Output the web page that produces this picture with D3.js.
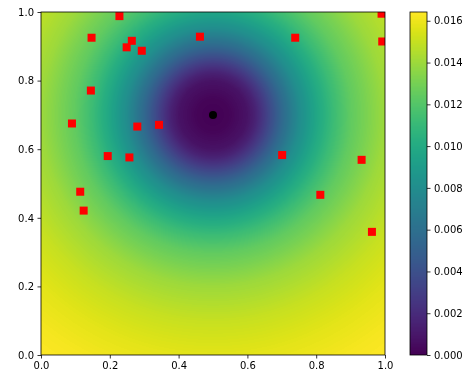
<!DOCTYPE html>
<html><head><meta charset="utf-8">
<script src="https://cdn.jsdelivr.net/npm/d3@7"></script>
<style>
html,body{margin:0;padding:0;background:#fff;}
#wrap{position:relative;width:474px;height:384px;}
canvas{position:absolute;left:0;top:0;}
svg{position:absolute;left:0;top:0;}
text{font-family:"DejaVu Sans",sans-serif;font-size:10px;fill:#000;}
</style></head>
<body><div id="wrap"><canvas id="cv" width="474" height="384"></canvas><svg id="sv" width="474" height="384"></svg></div>
<script>
// radial profile of the field: distance from target -> value
const profileDist = [0, 0.05, 0.1, 0.125, 0.15, 0.2, 0.25, 0.3, 0.35, 0.4, 0.5, 0.6, 0.7, 0.8, 0.9];
const profileVal  = [0, 0.0002, 0.0008, 0.0016, 0.0028, 0.0055, 0.0079, 0.0097, 0.0112, 0.0124, 0.0140, 0.0150, 0.0157, 0.0162, 0.0165];
const target = [0.5, 0.7];
const sampleX = [0.228,0.147,0.264,0.249,0.293,0.462,0.739,0.99,0.992,0.145,0.090,0.280,0.343,0.194,0.257,0.701,0.932,0.114,0.124,0.812,0.962];
const sampleY = [0.988,0.925,0.916,0.897,0.887,0.928,0.925,0.995,0.914,0.771,0.675,0.666,0.671,0.580,0.576,0.583,0.569,0.476,0.421,0.467,0.359];
const axisTicks = [0,0.2,0.4,0.6,0.8,1.0];
const cbarTicks = [0,0.002,0.004,0.006,0.008,0.010,0.012,0.014,0.016];
const vmax = 0.01642;

const L=41, R=385, T=12, B=355;
const x = d3.scaleLinear().domain([0,1]).range([L,R]);
const y = d3.scaleLinear().domain([0,1]).range([B,T]);
const prof = d3.scaleLinear().domain(profileDist).range(profileVal).clamp(true);
const color = d3.scaleSequential(d3.interpolateViridis).domain([0,vmax]);

const ctx = document.getElementById('cv').getContext('2d');
const W=R-L, H=B-T;
const img = ctx.createImageData(W,H);
for(let j=0;j<H;j++){
  for(let i=0;i<W;i++){
    const dx = x.invert(L+i+0.5)-target[0], dy = y.invert(T+j+0.5)-target[1];
    const c = d3.rgb(color(prof(Math.hypot(dx,dy))));
    const k=(j*W+i)*4;
    img.data[k]=c.r;img.data[k+1]=c.g;img.data[k+2]=c.b;img.data[k+3]=255;
  }
}
ctx.putImageData(img,L,T);

// colorbar
const cx0=410, cx1=427;
const cy = d3.scaleLinear().domain([0,vmax]).range([B,T]);
for(let j=T;j<B;j++){
  ctx.fillStyle = color(cy.invert(j+0.5));
  ctx.fillRect(cx0,j,cx1-cx0,1);
}

const svg = d3.select('#sv');
const clip = svg.append('clipPath').attr('id','cp').append('rect').attr('x',L).attr('y',T).attr('width',W).attr('height',H);
const pts = svg.append('g').attr('clip-path','url(#cp)');
const sq=8;
pts.selectAll('rect').data(sampleX.map((v,i)=>[v,sampleY[i]])).enter().append('rect')
  .attr('x',d=>x(d[0])-sq/2).attr('y',d=>y(d[1])-sq/2).attr('width',sq).attr('height',sq).attr('fill','#ff0000');
pts.append('circle').attr('cx',x(target[0])).attr('cy',y(target[1])).attr('r',4).attr('fill','#000');

const fmt1 = d3.format('.1f');
const gx = svg.append('g').attr('transform',`translate(0,${B})`).call(d3.axisBottom(x).tickValues(axisTicks).tickFormat(fmt1).tickSize(3.5).tickPadding(3.5));
const gy = svg.append('g').attr('transform',`translate(${L},0)`).call(d3.axisLeft(y).tickValues(axisTicks).tickFormat(fmt1).tickSize(3.5).tickPadding(3.5));
const gc = svg.append('g').attr('transform',`translate(${cx1},0)`).call(d3.axisRight(cy).tickValues(cbarTicks).tickFormat(d3.format('.3f')).tickSize(3.5).tickPadding(3.5));
[gx,gy,gc].forEach(g=>{g.select('.domain').remove();g.selectAll('text').attr('font-size',null).attr('font-family',null).style('fill','#000');g.selectAll('line').attr('stroke','#000').attr('stroke-width',0.8);});
svg.append('rect').attr('x',L).attr('y',T).attr('width',W).attr('height',H).attr('fill','none').attr('stroke','#000').attr('stroke-width',0.8);
svg.append('rect').attr('x',cx0).attr('y',T).attr('width',cx1-cx0).attr('height',H).attr('fill','none').attr('stroke','#000').attr('stroke-width',0.8);
</script></body></html>
